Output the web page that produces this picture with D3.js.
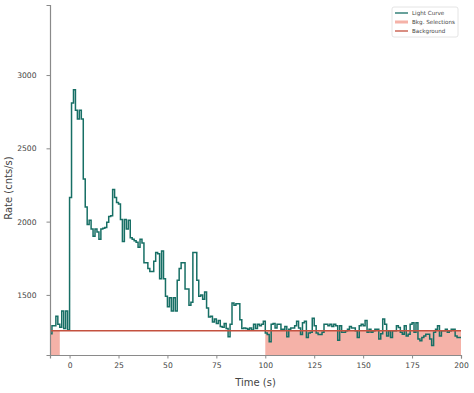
<!DOCTYPE html>
<html>
<head>
<meta charset="utf-8">
<script src="https://cdn.jsdelivr.net/npm/d3@7"></script>
<style>
  body { margin: 0; background: #fff; }
  svg { display: block; font-family: "DejaVu Sans", sans-serif; }
</style>
</head>
<body>
<svg id="chart" width="474" height="393"></svg>
<script>
// light curve, 1 s bins starting at t = -10
const binStart = -10;
const binWidth = 1;
const rates = [
    1235, 1290, 1290, 1355, 1300, 1280, 1390, 1270, 1390, 1260,
    2165, 2810, 2900, 2760, 2700, 2760, 2700, 2290, 2100, 1980,
    2010, 1950, 1900, 1950, 1930, 1880, 1950, 1955, 1960, 1995,
    2035, 2040, 2220, 2165, 2130, 2120, 2015, 1865, 2015, 1950,
    2010, 1890, 1880, 1870, 1860, 1825, 1880, 1855, 1720, 1720,
    1680, 1660, 1660, 1730, 1790, 1780, 1610, 1800, 1610, 1490,
    1420, 1480, 1390, 1480, 1390, 1600, 1680, 1720, 1720, 1540,
    1540, 1430, 1450, 1790, 1790, 1600, 1490, 1500, 1470, 1520,
    1410, 1350, 1355, 1315, 1335, 1305, 1325, 1285, 1280, 1305,
    1270, 1215, 1300, 1445, 1430, 1440, 1440, 1330, 1270, 1275,
    1270, 1265, 1275, 1260, 1300, 1270, 1300, 1290, 1300, 1320,
    1240, 1230, 1180, 1300, 1305, 1275, 1300, 1300, 1265, 1265,
    1285, 1215, 1265, 1275, 1275, 1290, 1320, 1275, 1230, 1310,
    1320, 1210, 1240, 1245, 1340, 1290, 1240, 1230, 1230, 1245,
    1300, 1300, 1290, 1300, 1285, 1300, 1290, 1190, 1290, 1245,
    1245, 1255, 1265, 1285, 1275, 1275, 1255, 1210, 1290, 1300,
    1290, 1325, 1245, 1265, 1245, 1255, 1265, 1265, 1200, 1235,
    1335, 1300, 1220, 1255, 1210, 1255, 1255, 1290, 1278, 1245,
    1232, 1290, 1220, 1232, 1300, 1310, 1245, 1310, 1200, 1188,
    1210, 1220, 1232, 1232, 1200, 1155, 1245, 1265, 1290, 1220,
    1255, 1255, 1265, 1245, 1255, 1265, 1265, 1220, 1210, 1210
];

const bkgIntervals = [[-10, -5], [100, 200]];
const bkgLevel = 1255;

const xTicks = [0, 25, 50, 75, 100, 125, 150, 175, 200];
const yTicks = [1500, 2000, 2500, 3000];

const legendItems = ["Light Curve", "Bkg. Selections", "Background"];

const curveColor = "#176f65";
const bkgColor = "#c4513f";
const selColor = "#f5b2a8";

const margin = { left: 50, right: 13, top: 5, bottom: 38 };
const width = 474, height = 393;

const svg = d3.select("#chart");

const x = d3.scaleLinear()
    .domain([-10, 200])
    .range([margin.left, width - margin.right]);

const y = d3.scaleLinear()
    .domain([1090, 3478])
    .range([height - margin.bottom, margin.top]);

// bkg selection regions
svg.append("g")
    .selectAll("rect")
    .data(bkgIntervals)
    .enter()
    .append("rect")
    .attr("x", d => x(d[0]))
    .attr("width", d => x(d[1]) - x(d[0]))
    .attr("y", y(bkgLevel))
    .attr("height", y.range()[0] - y(bkgLevel))
    .attr("fill", selColor);

// step curve: each bin held over its width
const pts = rates.map((r, i) => [binStart + i * binWidth, r]);
pts.push([binStart + rates.length * binWidth, rates[rates.length - 1]]);

const line = d3.line()
    .x(d => x(d[0]))
    .y(d => y(d[1]))
    .curve(d3.curveStepAfter);

svg.append("path")
    .datum(pts)
    .attr("d", line)
    .attr("fill", "none")
    .attr("stroke", curveColor)
    .attr("stroke-width", 1.5);

// background level
svg.append("line")
    .attr("x1", x(-10))
    .attr("x2", x(200))
    .attr("y1", y(bkgLevel))
    .attr("y2", y(bkgLevel))
    .attr("stroke", bkgColor)
    .attr("stroke-width", 1.5);

// axes
const xAxis = svg.append("g")
    .attr("transform", `translate(0,${height - margin.bottom})`)
    .call(d3.axisBottom(x).tickValues(xTicks).tickSize(3.5).tickPadding(4.5));

const yAxis = svg.append("g")
    .attr("transform", `translate(${margin.left},0)`)
    .call(d3.axisLeft(y).tickValues(yTicks).tickFormat(d3.format("d"))
        .tickSize(3.5).tickPadding(10));

[xAxis, yAxis].forEach(g => {
    g.select(".domain").attr("stroke", "#8a8a8a").attr("stroke-width", 1.2);
    g.selectAll(".tick line").attr("stroke", "#8a8a8a");
    g.selectAll(".tick text")
        .attr("fill", "#444")
        .style("font-size", "7.6px")
        .style("font-family", "DejaVu Sans");
});

svg.append("text")
    .attr("x", (x(-10) + x(200)) / 2)
    .attr("y", 386)
    .attr("text-anchor", "middle")
    .attr("fill", "#444")
    .style("font-size", "10px")
    .text("Time (s)");

svg.append("text")
    .attr("transform", "translate(12,188) rotate(-90)")
    .attr("text-anchor", "middle")
    .attr("fill", "#444")
    .style("font-size", "10px")
    .text("Rate (cnts/s)");

// legend
const legend = svg.append("g").attr("transform", "translate(392,7)");
legend.append("rect")
    .attr("width", 66)
    .attr("height", 30)
    .attr("rx", 2)
    .attr("fill", "#fff")
    .attr("stroke", "#ddd")
    .attr("stroke-width", 0.8);

const rows = legend.selectAll(".row")
    .data(legendItems)
    .enter()
    .append("g")
    .attr("class", "row")
    .attr("transform", (d, i) => `translate(3,${6 + i * 9})`);

rows.each(function(d, i) {
    const g = d3.select(this);
    if (i === 1) {
        g.append("rect")
            .attr("x", 0).attr("y", -1.5)
            .attr("width", 13).attr("height", 3)
            .attr("fill", selColor);
    } else {
        g.append("line")
            .attr("x1", 0).attr("x2", 13)
            .attr("stroke", i === 0 ? curveColor : bkgColor)
            .attr("stroke-width", 1.3);
    }
    g.append("text")
        .attr("x", 17)
        .attr("y", 2)
        .attr("fill", "#444")
        .style("font-size", "5.6px")
        .text(d);
});
</script>
</body>
</html>
